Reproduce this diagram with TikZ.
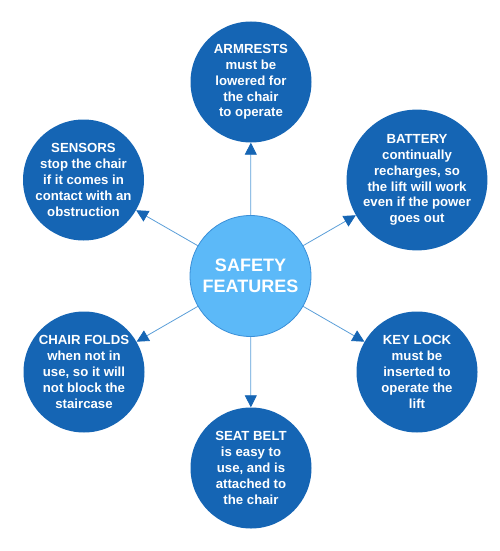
\documentclass[tikz,border=0pt]{standalone}
\usepackage{fontspec}
\setmainfont{Liberation Sans}
\usetikzlibrary{arrows.meta}
\definecolor{darkblue}{HTML}{1565B4}
\definecolor{lightblue}{HTML}{5CB9F8}
\definecolor{rimblue}{HTML}{3A8FD8}
\definecolor{lineblue}{HTML}{5A9ED8}
\begin{document}
\begin{tikzpicture}[x=1pt,y=-1pt,
  outer/.style={circle,fill=darkblue,minimum size=121pt,inner sep=0pt,
    text=white,font=\bfseries\fontsize{13.2}{15.8}\selectfont,align=center},
  hub/.style={circle,fill=lightblue,draw=rimblue,line width=0.8pt,minimum size=121pt,inner sep=0pt,
    text=white,font=\bfseries\fontsize{18}{20.5}\selectfont,align=center},
  link/.style={draw=lineblue,line width=0.8pt,-{Triangle[length=12pt,width=12pt,fill=darkblue,color=darkblue]}}]
\useasboundingbox (0,0) rectangle (500,551);
\node[hub] (c) at (250.5,276) {SAFETY\\FEATURES};
\node[outer] (arm) at (251,82) {ARMRESTS\\must be\\lowered for\\the chair\\to operate};
\node[outer] (bat) at (417,180) {BATTERY\\continually\\recharges, so\\the lift will work\\even if the power\\goes out};
\node[outer] (sen) at (83.5,180) {SENSORS\\stop the chair\\if it comes in\\contact with an\\obstruction};
\node[outer] (key) at (417,372) {KEY LOCK\\must be\\inserted to\\operate the\\lift};
\node[outer] (fold) at (84,372) {CHAIR FOLDS\\when not in\\use, so it will\\not block the\\staircase};
\node[outer] (belt) at (251,468) {SEAT BELT\\is easy to\\use, and is\\attached to\\the chair};
\foreach \t in {arm,bat,sen,key,fold,belt}
  \draw[link] (c) -- (\t);
\end{tikzpicture}
\end{document}
